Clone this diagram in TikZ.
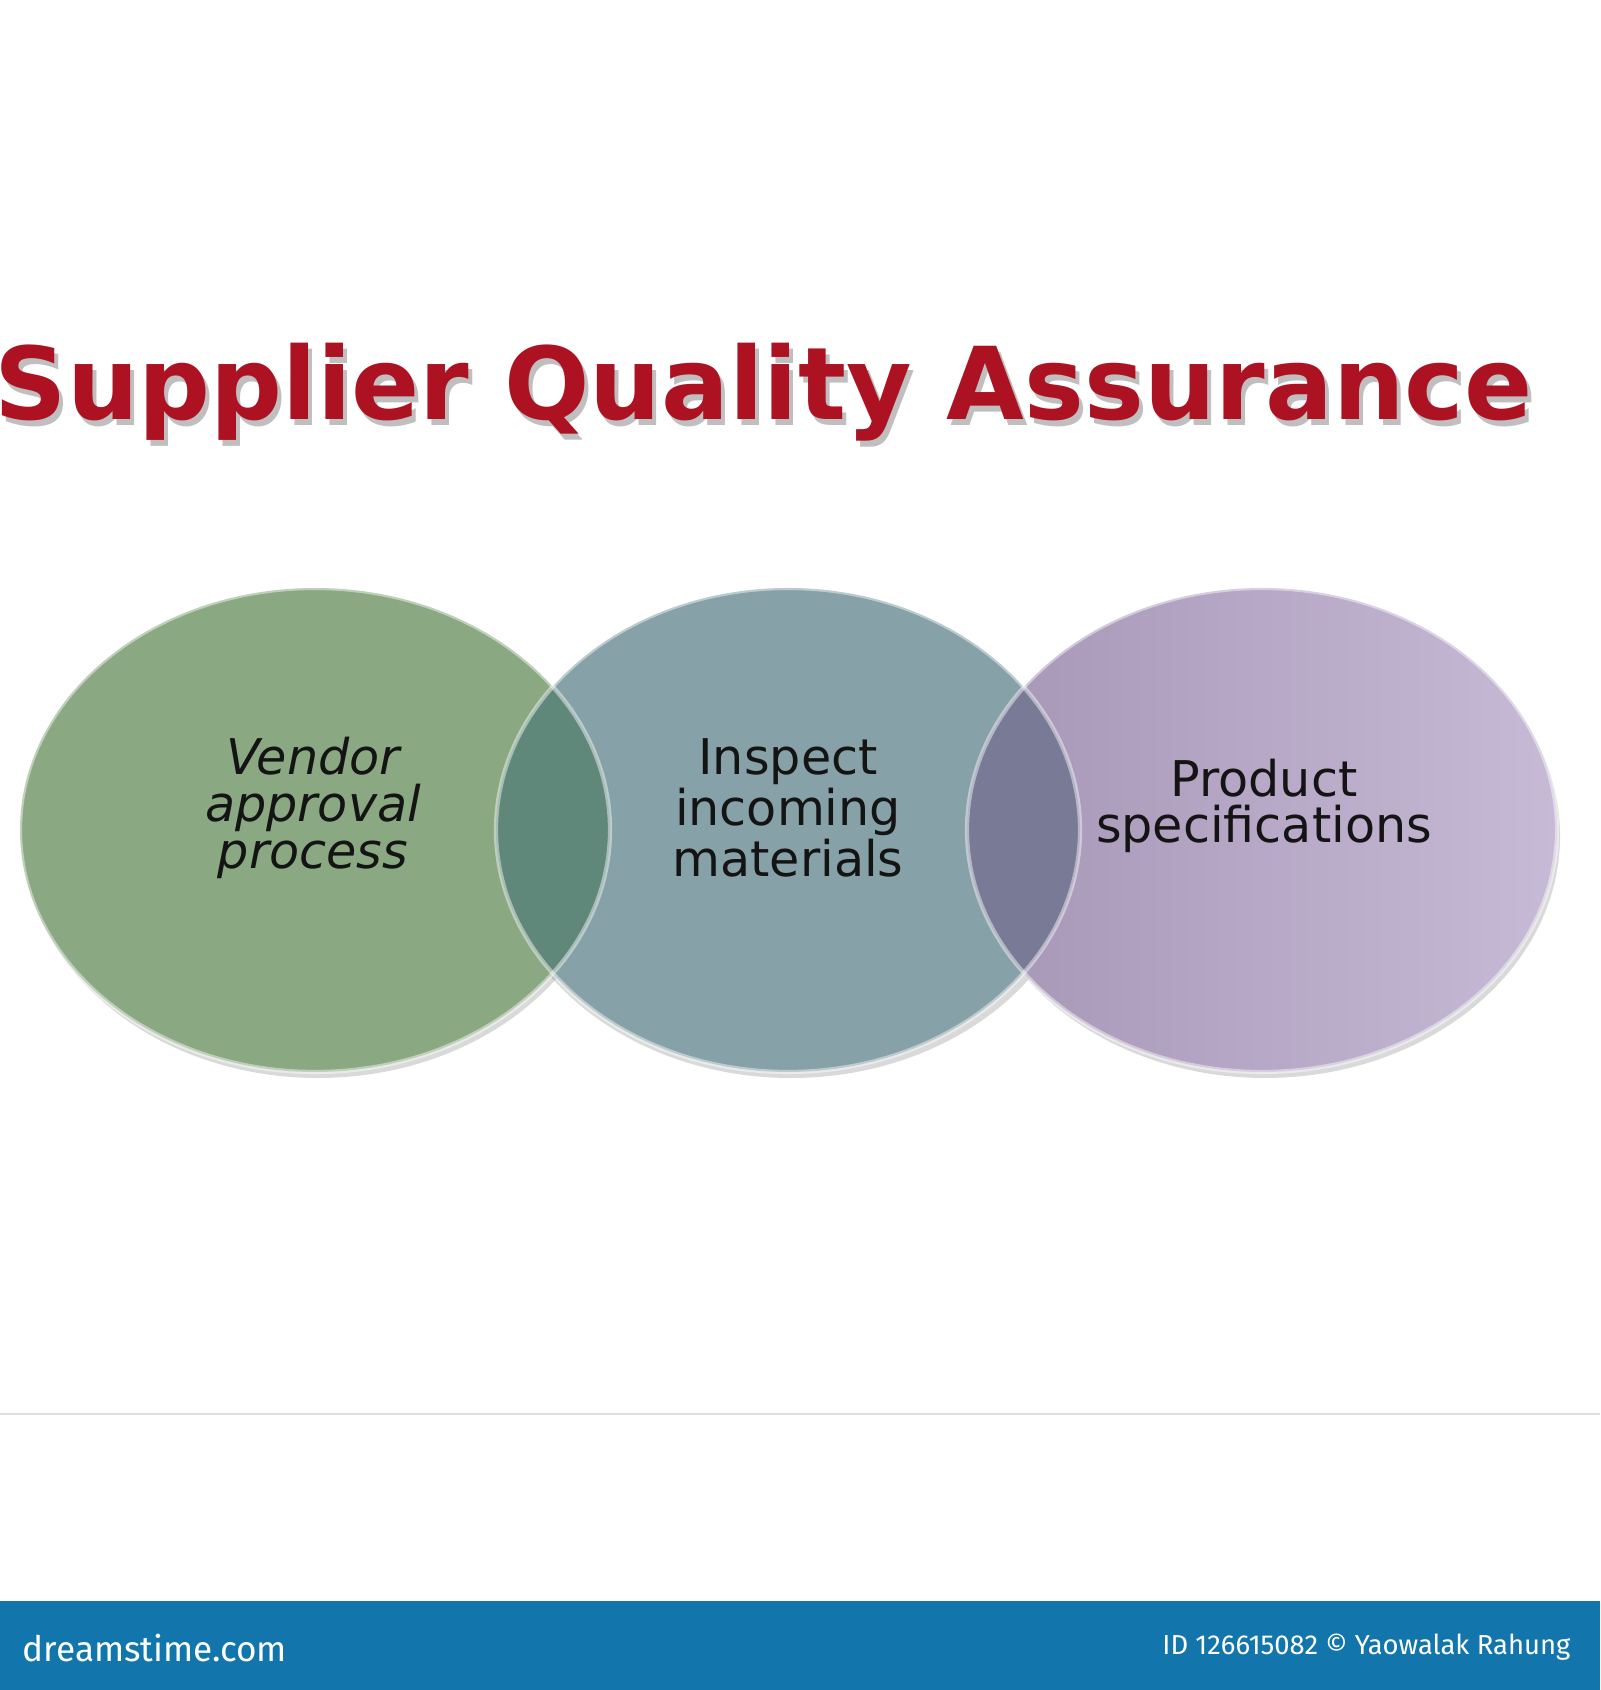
\documentclass[tikz,border=0pt]{standalone}
\usepackage{fontspec}
\setmainfont{DejaVu Sans}
\newfontfamily\footfont{Fira Sans}
\usetikzlibrary{shapes.geometric,positioning}
\definecolor{titlered}{RGB}{172,18,34}
\definecolor{vendorgreen}{RGB}{138,169,130}
\definecolor{inspectteal}{RGB}{134,161,167}
\definecolor{productleft}{RGB}{166,150,182}
\definecolor{productright}{RGB}{198,186,214}
\definecolor{overlapgt}{RGB}{96,136,122}
\definecolor{overlaptp}{RGB}{120,122,150}
\definecolor{footblue}{RGB}{18,118,172}

\tikzset{
    disc/.style={ellipse, minimum width=5.9cm, minimum height=4.84cm, inner sep=0pt},
    rim/.style={draw=white, draw opacity=0.45, line width=1.2pt},
    disctext/.style={font=\fontsize{14}{13.3}\selectfont, align=center, text=black!92},
    titletext/.style={anchor=base west, inner sep=0pt, font=\bfseries\fontsize{28.6}{28.6}\selectfont}
}

\begin{document}
\begin{tikzpicture}
    \useasboundingbox (0, 0) rectangle (16, 16.9);
    % Title
    \node[titletext, text=black!50, opacity=0.5] (titleshadow) at (-0.02, 12.64) {Supplier Quality Assurance};
    \node[titletext, text=titlered] (title) at (-0.06, 12.70) {Supplier Quality Assurance};
    % Discs
    \foreach \x in {3.15, 7.88, 12.62}
        \fill[black, opacity=0.15] (\x + 0.03, 8.54) ellipse (2.95 and 2.42);
    \node[disc, fill=vendorgreen] (vendor) at (3.15, 8.60) {};
    \node[disc, minimum width=5.84cm, fill=inspectteal] (inspect) at (7.88, 8.60) {};
    \node[disc, left color=productleft, right color=productright] (product) at (12.62, 8.60) {};
    \begin{scope}
        \clip (vendor.center) ellipse (2.95 and 2.42);
        \fill[overlapgt] (inspect.center) ellipse (2.92 and 2.42);
    \end{scope}
    \begin{scope}
        \clip (inspect.center) ellipse (2.92 and 2.42);
        \fill[overlaptp] (product.center) ellipse (2.95 and 2.42);
    \end{scope}
    \draw[rim] (vendor.center) ellipse (2.95 and 2.42);
    \draw[rim] (inspect.center) ellipse (2.92 and 2.42);
    \draw[rim] (product.center) ellipse (2.95 and 2.42);
    % Texts
    \node[disctext, font=\itshape\fontsize{14}{13.3}\selectfont] (vendortext) at ([yshift=0.22cm, xshift=-0.02cm]vendor.center) {Vendor\\approval\\process};
    \node[disctext] (inspecttext) at ([yshift=0.22cm]inspect.center) {Inspect\\incoming\\materials};
    \node[disctext] (producttext) at ([yshift=0.24cm, xshift=0.02cm]product.center) {Product\\specifications};
    % Rule and footer
    \coordinate (ruleleft) at (0, 2.76);
    \coordinate (ruleright) at (16, 2.76);
    \draw[black!13, line width=0.8pt] (ruleleft) -- (ruleright);
    \fill[footblue] (0, 0) rectangle (16, 0.89);
    \node[anchor=base west, inner sep=0pt, text=white, font=\footfont\fontsize{10}{10}\selectfont] (site) at (0.22, 0.28) {dreamstime.com};
    \node[anchor=base east, inner sep=0pt, text=white, font=\footfont\fontsize{7.8}{8}\selectfont] (credit) at (15.71, 0.35) {ID 126615082 © Yaowalak Rahung};
\end{tikzpicture}
\end{document}
